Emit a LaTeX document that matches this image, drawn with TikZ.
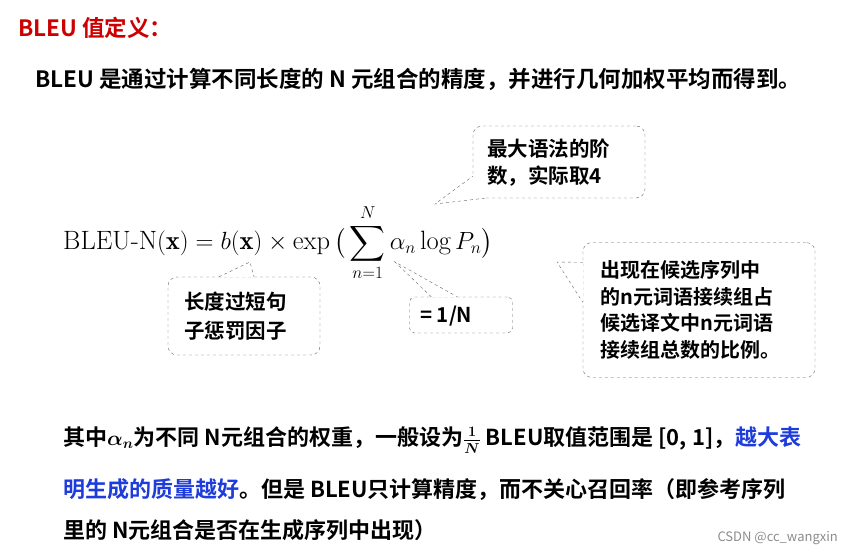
\documentclass[tikz,border=0pt]{standalone}
\usepackage{fontspec}
\usepackage{amsmath}
\usetikzlibrary{calc}
\newfontfamily\cjk{Noto Sans CJK SC}[BoldFont=* Bold]
\definecolor{tred}{RGB}{204,0,0}
\definecolor{tblue}{RGB}{30,60,220}
\tikzset{
  txt/.style={anchor=west,inner sep=0pt,font=\cjk\bfseries\fontsize{22.5}{24}\selectfont},
  btxt/.style={anchor=west,inner sep=0pt,font=\cjk\bfseries\fontsize{22}{24}\selectfont},
  cnote/.style={draw=black!60,dashed,rounded corners=9pt,fill=white,inner sep=0pt},
  ctext/.style={anchor=west,align=left,inner sep=0pt,font=\cjk\bfseries\fontsize{20.5}{27}\selectfont},
  ptr/.style={draw=black!60,dashed}
}
\newcommand{\pointer}[3]{%
  \fill[white] (#1) -- (#2) -- (#3) -- cycle;
  \draw[ptr] (#1) -- (#2) -- (#3);}
\begin{document}
\begin{tikzpicture}[x=1pt,y=-1pt]
\useasboundingbox (0,0) rectangle (853,556);
\node[txt,text=tred] (title) at (18,28) {BLEU 值定义：};
\node[txt] (l1) at (35,79) {BLEU 是通过计算不同长度的 N 元组合的精度，并进行几何加权平均而得到。};
\node[anchor=west,inner sep=0pt,font=\fontsize{26.5}{30}\selectfont] (f) at (63,243)
 {BLEU-N$(\mathbf{x}) = b(\mathbf{x}) \times \exp\big(\displaystyle\sum_{n=1}^{N} \alpha_n \log P_n\big)$};
\coordinate (p1) at (435,204);
\coordinate (p2) at (250,262);
\coordinate (p3) at (395,262);
\coordinate (p4) at (557,262);
\node[cnote,minimum width=172,minimum height=72] (c1) at (559,162) {};
\node[ctext] (t1) at (487,163) {最大语法的阶\\数，实际取4};
\pointer{$(c1.south west)+(12,0)$}{p1}{$(c1.south west)+(0,-22)$}
\node[cnote,minimum width=152,minimum height=78] (c2) at (244,316) {};
\node[ctext,font=\cjk\bfseries\fontsize{20.5}{29}\selectfont] (t2) at (184,316) {长度过短句\\子惩罚因子};
\pointer{$(c2.north)+(-25,0)$}{p2}{$(c2.north)+(10,0)$}
\node[cnote,rounded corners=5pt,minimum width=103,minimum height=36] (c3) at (461,315) {};
\node[ctext] (t3) at (420,316) {= 1/N};
\pointer{$(c3.north west)+(22,0)$}{p3}{$(c3.north west)+(48,0)$}
\node[cnote,minimum width=232,minimum height=135] (c4) at (699,310) {};
\node[ctext,font=\cjk\bfseries\fontsize{20}{26.5}\selectfont] (t4) at (600,310) {出现在候选序列中\\的n元词语接续组占\\候选译文中n元词语\\接续组总数的比例。};
\pointer{$(c4.north west)+(0,20)$}{p4}{$(c4.north west)+(0,60)$}
\node[btxt] (b1) at (63,440) {其中{\boldmath$\alpha_n$}为不同 N元组合的权重，一般设为{\boldmath$\tfrac{1}{N}$} BLEU取值范围是 [0, 1]，\textcolor{tblue}{越大表}};
\node[btxt,text=tblue] (b2) at (63,490) {明生成的质量越好\textcolor{black}{。但是 BLEU只计算精度，而不关心召回率（即参考序列}};
\node[btxt] (b3) at (63,530) {里的 N元组合是否在生成序列中出现）};
\node[anchor=east,inner sep=0pt,text=black!45,font=\cjk\fontsize{13}{14}\selectfont] (wm) at (838,538) {CSDN @cc\_wangxin};
\end{tikzpicture}
\end{document}
